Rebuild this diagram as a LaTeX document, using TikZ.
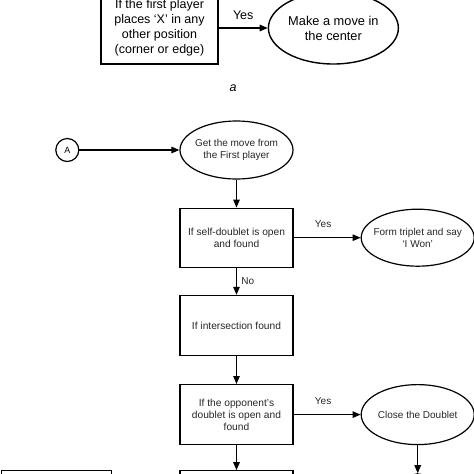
\documentclass[tikz,border=0pt]{standalone}
\usepackage{fontspec}
\setmainfont{Liberation Sans}
\usetikzlibrary{positioning, shapes.geometric, arrows.meta}

\begin{document}
\begin{tikzpicture}[
    x=1pt, y=-1pt,
    >={Triangle[length=8pt, width=6.5pt]},
    process/.style={rectangle, draw, line width=1.2pt, minimum width=113pt, minimum height=59pt, align=center, text=black!85, font=\fontsize{10.2}{12}\selectfont},
    terminal/.style={ellipse, draw, line width=1.2pt, minimum width=113pt, minimum height=58pt, inner xsep=-6pt, align=center, text=black!85, font=\fontsize{10}{12}\selectfont},
    connector/.style={circle, draw, line width=1.2pt, minimum size=23pt, inner sep=0pt, font=\fontsize{9}{11}\selectfont},
    flow/.style={->, line width=1.2pt},
    lbl/.style={text=black!85, font=\fontsize{10}{12}\selectfont}
]
\useasboundingbox (0,0) rectangle (474,474);

% Part a
\node[process, line width=1.4pt, minimum width=117pt, minimum height=72pt, text=black, font=\fontsize{12.5}{15}\selectfont] (placed) at (159.5,28) {If the first player\\places `X' in any\\other position\\(corner or edge)};
\node[terminal, line width=1.4pt, minimum width=130pt, minimum height=72pt, text=black, font=\fontsize{12.8}{15}\selectfont, right=49pt of placed] (center) {Make a move in\\the center};
\node[font=\fontsize{12.5}{14}\selectfont\itshape] (caption) at (233,88) {a};

% Part b
\node[terminal] (getmove) at (236.5,150) {Get the move from\\the First player};
\node[connector, left=100pt of getmove] (conA) {A};
\node[process, below=28pt of getmove] (selfdbl) {If self-doublet is open\\and found};
\node[terminal, minimum height=57pt, right=67pt of selfdbl] (won) {Form triplet and say\\`I Won'};
\node[process, minimum height=60pt, below=27pt of selfdbl] (inter) {If intersection found};
\node[process, minimum height=60pt, below=28pt of inter] (oppdbl) {If the opponent's\\doublet is open and\\found};
\node[terminal, minimum height=60pt, right=67pt of oppdbl] (close) {Close the Doublet};
\node[connector, below=28pt of close] (conB) {};
\node[process, below=25pt of oppdbl] (nextstep) {};
\node[process, minimum width=110pt, left=67pt of nextstep] (sidestep) {};

% Edges
\draw[flow, line width=1.4pt] (placed) -- node[above=4pt, font=\fontsize{12.5}{14}\selectfont] {Yes} (center);
\draw[flow] (conA) -- (getmove);
\draw[flow] (getmove) -- (selfdbl);
\draw[flow] (selfdbl) -- node[lbl, above=6pt, xshift=-4pt] {Yes} (won);
\draw[flow] (selfdbl) -- node[lbl, right=1pt] {No} (inter);
\draw[flow] (inter) -- (oppdbl);
\draw[flow] (oppdbl) -- node[lbl, above=6pt, xshift=-4pt] {Yes} (close);
\draw[flow] (oppdbl) -- (nextstep);
\draw[flow] (close) -- (conB);

\end{tikzpicture}
\end{document}
